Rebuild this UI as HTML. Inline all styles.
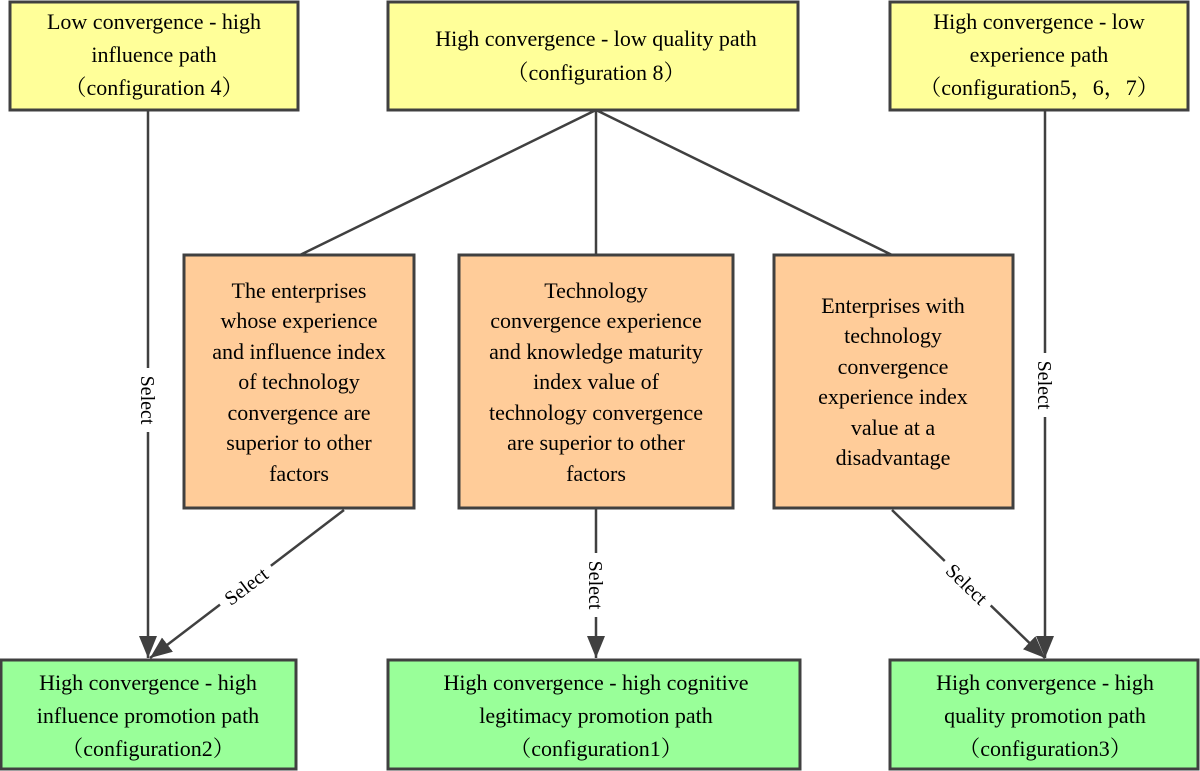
<!DOCTYPE html>
<html><head><meta charset="utf-8"><style>
html,body{margin:0;padding:0;background:#fff;}
svg{display:block;}
text{font-family:"Liberation Serif","Noto Serif CJK SC",serif;font-size:22px;fill:#000;text-anchor:middle;}
.b{stroke:#404040;stroke-width:3;}
.l{stroke:#404040;stroke-width:2.5;fill:none;}
.s{font-size:20px;}
</style></head><body>
<svg width="1200" height="771" viewBox="0 0 1200 771" xmlns="http://www.w3.org/2000/svg">
<defs><marker id="a" markerWidth="10" markerHeight="10" refX="9" refY="5" orient="auto" markerUnits="userSpaceOnUse" viewBox="0 0 10 10"><path d="M0,0 L10,5 L0,10 z" fill="#404040"/></marker>
<marker id="A" markerWidth="22" markerHeight="18" refX="22" refY="9" orient="auto" markerUnits="userSpaceOnUse"><path d="M0,0 L22,9 L0,18 z" fill="#404040"/></marker></defs>
<!-- connectors -->
<line class="l" x1="596" y1="110" x2="300" y2="255"/>
<line class="l" x1="596" y1="110" x2="596" y2="255"/>
<line class="l" x1="596" y1="110" x2="892" y2="255"/>
<line class="l" x1="148" y1="110" x2="148" y2="658" marker-end="url(#A)"/>
<line class="l" x1="344" y1="510" x2="150" y2="658" marker-end="url(#A)"/>
<line class="l" x1="596" y1="508" x2="596" y2="658" marker-end="url(#A)"/>
<line class="l" x1="892" y1="510" x2="1045" y2="658" marker-end="url(#A)"/>
<line class="l" x1="1045" y1="110" x2="1045" y2="658" marker-end="url(#A)"/>
<!-- labels -->
<g transform="translate(148,400) rotate(90)"><rect x="-32" y="-10" width="64" height="20" fill="#fff"/><text class="s" y="7">Select</text></g>
<g transform="translate(246,586) rotate(-37)"><rect x="-32" y="-10" width="64" height="20" fill="#fff"/><text class="s" y="7">Select</text></g>
<g transform="translate(596,585) rotate(90)"><rect x="-32" y="-10" width="64" height="20" fill="#fff"/><text class="s" y="7">Select</text></g>
<g transform="translate(967,584) rotate(44)"><rect x="-32" y="-10" width="64" height="20" fill="#fff"/><text class="s" y="7">Select</text></g>
<g transform="translate(1045,385) rotate(90)"><rect x="-32" y="-10" width="64" height="20" fill="#fff"/><text class="s" y="7">Select</text></g>
<!-- yellow -->
<rect class="b" x="10" y="2" width="288" height="108" fill="#ffff99"/>
<text x="154" y="29">Low convergence - high</text>
<text x="154" y="62">influence path</text>
<text x="154" y="95">（configuration 4）</text>
<rect class="b" x="388" y="2" width="410" height="108" fill="#ffff99"/>
<text x="596" y="46">High convergence - low quality path</text>
<text x="596" y="80">（configuration 8）</text>
<rect class="b" x="890" y="2" width="298" height="108" fill="#ffff99"/>
<text x="1039" y="29">High convergence - low</text>
<text x="1039" y="62">experience path</text>
<text x="1039" y="95">（configuration5，6，7）</text>
<!-- orange -->
<rect class="b" x="184" y="255" width="230" height="253" fill="#ffcc99"/>
<g><text x="299" y="298">The enterprises</text><text x="299" y="328">whose experience</text><text x="299" y="359">and influence index</text><text x="299" y="389">of technology</text><text x="299" y="420">convergence are</text><text x="299" y="450">superior to other</text><text x="299" y="481">factors</text></g>
<rect class="b" x="459" y="255" width="274" height="253" fill="#ffcc99"/>
<g><text x="596" y="298">Technology</text><text x="596" y="328">convergence experience</text><text x="596" y="359">and knowledge maturity</text><text x="596" y="389">index value of</text><text x="596" y="420">technology convergence</text><text x="596" y="450">are superior to other</text><text x="596" y="481">factors</text></g>
<rect class="b" x="774" y="255" width="239" height="253" fill="#ffcc99"/>
<g><text x="893" y="313">Enterprises with</text><text x="893" y="343">technology</text><text x="893" y="374">convergence</text><text x="893" y="404">experience index</text><text x="893" y="435">value at a</text><text x="893" y="465">disadvantage</text></g>
<!-- green -->
<rect class="b" x="1" y="660" width="295" height="109" fill="#99ff99"/>
<text x="148" y="690">High convergence - high</text>
<text x="148" y="723">influence promotion path</text>
<text x="148" y="756">（configuration2）</text>
<rect class="b" x="388" y="660" width="412" height="109" fill="#99ff99"/>
<text x="596" y="690">High convergence - high cognitive</text>
<text x="596" y="723">legitimacy promotion path</text>
<text x="596" y="756">（configuration1）</text>
<rect class="b" x="890" y="660" width="308" height="109" fill="#99ff99"/>
<text x="1045" y="690">High convergence - high</text>
<text x="1045" y="723">quality promotion path</text>
<text x="1045" y="756">（configuration3）</text>
</svg>
</body></html>
